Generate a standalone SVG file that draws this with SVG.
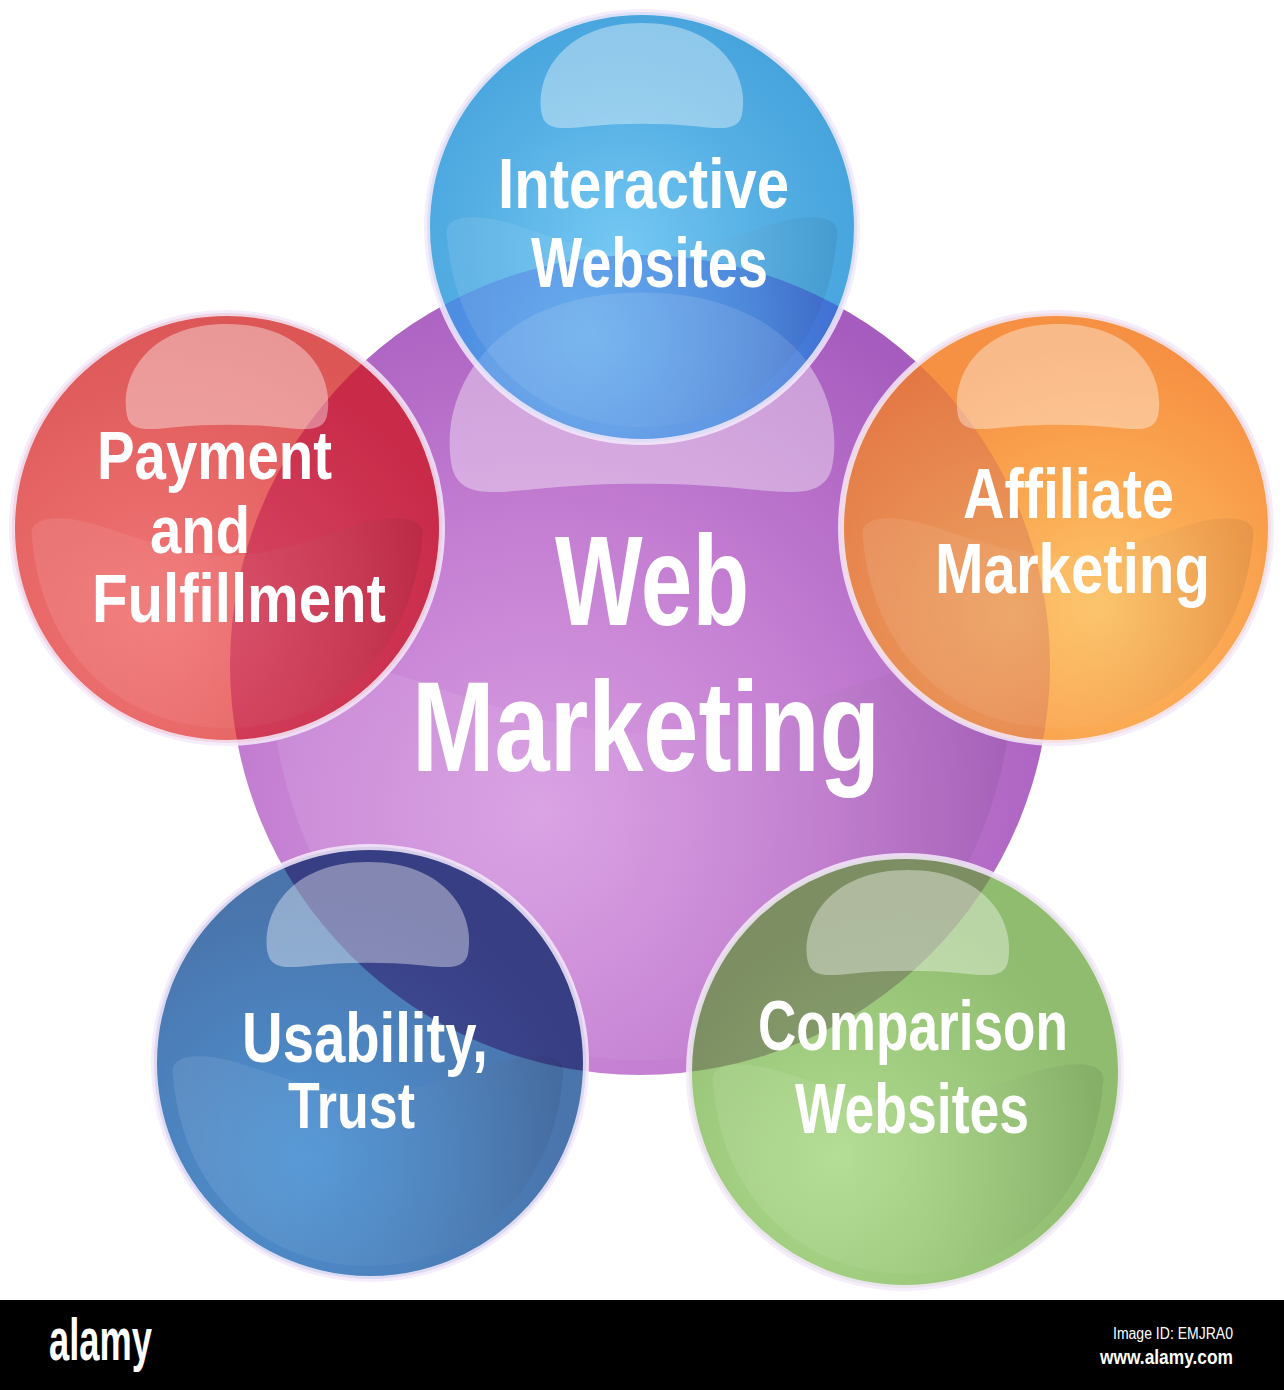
<svg xmlns="http://www.w3.org/2000/svg" xmlns:xlink="http://www.w3.org/1999/xlink" width="1284" height="1390" viewBox="0 0 1284 1390">
<defs>
<style>
.lbl{font-family:"Liberation Sans","DejaVu Sans Condensed",Arial,sans-serif;font-weight:bold;fill:#ffffff}
.ring{fill:none;stroke:#f4eafb;stroke-opacity:0.85;stroke-width:6}
.hl{fill:#ffffff;fill-opacity:0.38}
.lo{fill:url(#gLo)}
.bar{font-family:"Liberation Sans",Arial,sans-serif;fill:#ffffff}
</style>
<path id="topBlob" d="M -100,-112 C -108,-152 -78,-204 0,-204 C 78,-204 108,-152 100,-112 C 96,-96 80,-98 50,-101 C 20,-104 -20,-104 -50,-101 C -80,-98 -96,-96 -100,-112 Z"/>
<path id="botBlob" d="M -195,10 C -200,-12 -168,-16 -120,0 C -62,20 -30,28 0,28 C 30,28 62,20 120,0 C 168,-16 200,-12 195,10 C 185,130 100,200 0,200 C -100,200 -185,130 -195,10 Z"/>
<clipPath id="purpleClip"><circle cx="640" cy="665" r="410"/></clipPath>
<clipPath id="blueClip"><circle cx="642" cy="227" r="215"/></clipPath>
<linearGradient id="gLo" x1="0" y1="0" x2="1" y2="0">
<stop offset="0" stop-color="#ffffff" stop-opacity="0.10"/>
<stop offset="0.5" stop-color="#ffffff" stop-opacity="0.04"/>
<stop offset="1" stop-color="#000000" stop-opacity="0.07"/>
</linearGradient>
<radialGradient id="gP" cx="0.38" cy="0.68" r="0.7">
<stop offset="0" stop-color="#d89ee2"/>
<stop offset="0.5" stop-color="#c47ed2"/>
<stop offset="1" stop-color="#a65cbe"/>
</radialGradient>
<radialGradient id="gB" cx="0.45" cy="0.55" r="0.6">
<stop offset="0" stop-color="#74c8f3"/>
<stop offset="0.6" stop-color="#54aee3"/>
<stop offset="1" stop-color="#44a2dc"/>
</radialGradient>
<radialGradient id="gBo" cx="0.38" cy="0.75" r="0.7">
<stop offset="0" stop-color="#5ea8ec"/>
<stop offset="0.55" stop-color="#4a88e0"/>
<stop offset="1" stop-color="#3a60cc"/>
</radialGradient>
<radialGradient id="gR" cx="0.35" cy="0.7" r="0.7">
<stop offset="0" stop-color="#f27676"/>
<stop offset="1" stop-color="#dc5656"/>
</radialGradient>
<radialGradient id="gRo" cx="0.45" cy="0.7" r="0.6">
<stop offset="0" stop-color="#d84a64"/>
<stop offset="1" stop-color="#c82a48"/>
</radialGradient>
<radialGradient id="gO" cx="0.6" cy="0.68" r="0.6">
<stop offset="0" stop-color="#fdc468"/>
<stop offset="0.5" stop-color="#fba852"/>
<stop offset="1" stop-color="#f69042"/>
</radialGradient>
<radialGradient id="gOo" cx="0.4" cy="0.7" r="0.6">
<stop offset="0" stop-color="#eca262"/>
<stop offset="1" stop-color="#e47844"/>
</radialGradient>
<radialGradient id="gD" cx="0.35" cy="0.72" r="0.6">
<stop offset="0" stop-color="#4e94d4"/>
<stop offset="1" stop-color="#4a74ac"/>
</radialGradient>
<radialGradient id="gDo" cx="0.4" cy="0.7" r="0.6">
<stop offset="0" stop-color="#4256a0"/>
<stop offset="1" stop-color="#383e84"/>
</radialGradient>
<radialGradient id="gG" cx="0.35" cy="0.7" r="0.6">
<stop offset="0" stop-color="#afdb8e"/>
<stop offset="1" stop-color="#8fbc6e"/>
</radialGradient>
<radialGradient id="gGo" cx="0.5" cy="0.7" r="0.6">
<stop offset="0" stop-color="#8ea872"/>
<stop offset="1" stop-color="#7c8e62"/>
</radialGradient>
</defs>

<rect x="0" y="0" width="1284" height="1390" fill="#ffffff"/>

<g id="node-web-marketing">
<circle cx="640" cy="665" r="410" fill="url(#gP)"/>
<use xlink:href="#topBlob" class="hl" transform="translate(642,680) scale(1.9)"/>
<use xlink:href="#botBlob" class="lo" transform="translate(642,680) scale(1.9)"/>
</g>

<g id="node-interactive-websites">
<circle cx="642" cy="227" r="215" fill="url(#gB)"/>
<circle cx="642" cy="227" r="215" fill="url(#gBo)" clip-path="url(#purpleClip)"/>
<g clip-path="url(#blueClip)"><use xlink:href="#topBlob" fill="#ffffff" fill-opacity="0.12" transform="translate(642,680) scale(1.9)"/></g>
<use xlink:href="#topBlob" class="hl" transform="translate(642,227)"/>
<use xlink:href="#botBlob" class="lo" transform="translate(642,227)"/>
<circle cx="642" cy="227" r="215" class="ring"/>
</g>

<g id="node-payment">
<circle cx="227" cy="528" r="215" fill="url(#gR)"/>
<circle cx="227" cy="528" r="215" fill="url(#gRo)" clip-path="url(#purpleClip)"/>
<use xlink:href="#topBlob" class="hl" transform="translate(227,528)"/>
<use xlink:href="#botBlob" class="lo" transform="translate(227,528)"/>
<circle cx="227" cy="528" r="215" class="ring"/>
</g>

<g id="node-affiliate">
<circle cx="1056" cy="528" r="215" fill="url(#gO)"/>
<circle cx="1056" cy="528" r="215" fill="url(#gOo)" clip-path="url(#purpleClip)"/>
<use xlink:href="#topBlob" class="hl" transform="translate(1058,528)"/>
<use xlink:href="#botBlob" class="lo" transform="translate(1058,528)"/>
<circle cx="1056" cy="528" r="215" class="ring"/>
</g>

<g id="node-usability">
<circle cx="370" cy="1063" r="216" fill="url(#gD)"/>
<circle cx="370" cy="1063" r="216" fill="url(#gDo)" clip-path="url(#purpleClip)"/>
<use xlink:href="#topBlob" class="hl" transform="translate(368,1066)"/>
<use xlink:href="#botBlob" class="lo" transform="translate(368,1066)"/>
<circle cx="370" cy="1063" r="216" class="ring"/>
</g>

<g id="node-comparison">
<circle cx="905" cy="1072" r="216" fill="url(#gG)"/>
<circle cx="905" cy="1072" r="216" fill="url(#gGo)" clip-path="url(#purpleClip)"/>
<use xlink:href="#topBlob" class="hl" transform="translate(908,1074)"/>
<use xlink:href="#botBlob" class="lo" transform="translate(908,1074)"/>
<circle cx="905" cy="1072" r="216" class="ring"/>
</g>

<g id="connectors"></g>

<g id="labels">
<text class="lbl" x="498" y="208" font-size="71" textLength="291" lengthAdjust="spacingAndGlyphs">Interactive</text>
<text class="lbl" x="531" y="287" font-size="71" textLength="237" lengthAdjust="spacingAndGlyphs">Websites</text>
<text class="lbl" x="97" y="479" font-size="68" textLength="235" lengthAdjust="spacingAndGlyphs">Payment</text>
<text class="lbl" x="150" y="553" font-size="66" textLength="100" lengthAdjust="spacingAndGlyphs">and</text>
<text class="lbl" x="92" y="622" font-size="68" textLength="294" lengthAdjust="spacingAndGlyphs">Fulfillment</text>
<text class="lbl" x="963" y="518" font-size="71" textLength="211" lengthAdjust="spacingAndGlyphs">Affiliate</text>
<text class="lbl" x="935" y="593" font-size="71" textLength="275" lengthAdjust="spacingAndGlyphs">Marketing</text>
<text class="lbl" x="242" y="1062" font-size="70" textLength="246" lengthAdjust="spacingAndGlyphs">Usability,</text>
<text class="lbl" x="288" y="1128" font-size="64" textLength="127" lengthAdjust="spacingAndGlyphs">Trust</text>
<text class="lbl" x="758" y="1050" font-size="71" textLength="310" lengthAdjust="spacingAndGlyphs">Comparison</text>
<text class="lbl" x="795" y="1133" font-size="71" textLength="234" lengthAdjust="spacingAndGlyphs">Websites</text>
<text class="lbl" x="555" y="625" font-size="128" textLength="194" lengthAdjust="spacingAndGlyphs">Web</text>
<text class="lbl" x="412" y="771" font-size="128" textLength="468" lengthAdjust="spacingAndGlyphs">Marketing</text>
</g>

<g id="footer">
<rect x="0" y="1300" width="1284" height="90" fill="#000000"/>
<text class="bar" x="49" y="1360" font-size="60" font-weight="bold" textLength="103" lengthAdjust="spacingAndGlyphs">alamy</text>
<text class="bar" x="1113" y="1339" font-size="16" fill="#dddddd" textLength="120" lengthAdjust="spacingAndGlyphs">Image ID: EMJRA0</text>
<text class="bar" x="1100" y="1364" font-size="20" font-weight="bold" textLength="133" lengthAdjust="spacingAndGlyphs">www.alamy.com</text>
</g>
</svg>
